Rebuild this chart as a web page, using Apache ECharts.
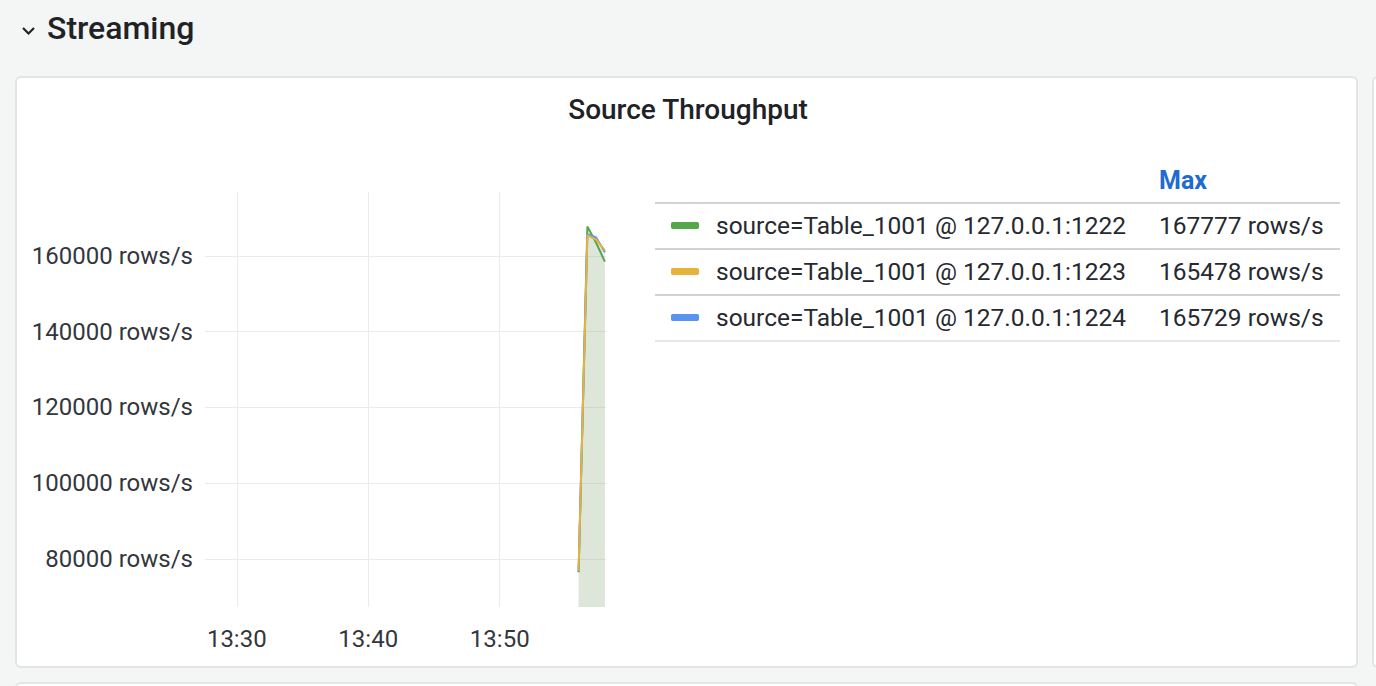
<!DOCTYPE html>
<html>
<head>
<meta charset="utf-8">
<script src="https://cdn.jsdelivr.net/npm/echarts@6/dist/echarts.min.js"></script>
<style>
    html, body {
        margin: 0;
        padding: 0;
        width: 1376px;
        height: 686px;
        overflow: hidden;
        background: #f4f5f5;
        font-family: Roboto, "Noto Sans", sans-serif;
    }
    .row-title {
        position: absolute;
        left: 21px;
        top: 8px;
        height: 40px;
        display: flex;
        align-items: center;
        color: #202226;
        font-size: 32px;
        font-weight: 500;
    }
    .row-title svg {
        margin-right: 11px;
        margin-top: 4px;
    }
    .panel {
        position: absolute;
        background: #fff;
        border: 2px solid #e3e4e6;
        border-radius: 6px;
        box-sizing: border-box;
    }
    #chart {
        position: absolute;
        left: 0;
        top: 0;
        width: 1376px;
        height: 686px;
    }
</style>
</head>
<body>
<div class="row-title">
    <svg width="15" height="11" viewBox="0 0 15 11"><path d="M2 3 L7.5 8.5 L13 3" fill="none" stroke="#202226" stroke-width="2.2"/></svg>
    Streaming
</div>
<div class="panel" style="left:15px; top:76px; width:1343px; height:592px;"></div>
<div class="panel" style="left:1372px; top:76px; width:300px; height:592px;"></div>
<div class="panel" style="left:15px; top:682px; width:1343px; height:100px;"></div>
<div id="chart"></div>

<script>
// sample times (13:56:00 -> 13:58:00, 40s step)
var times = ['13:56:00', '13:56:40', '13:57:20', '13:58:00'];
var seriesNames = [
    'source=Table_1001 @ 127.0.0.1:1222',
    'source=Table_1001 @ 127.0.0.1:1223',
    'source=Table_1001 @ 127.0.0.1:1224'
];
var host1222 = [76500, 167777, 163500, 158500];
var host1223 = [76800, 165478, 164300, 161500];
var host1224 = [76700, 165729, 164900, 161000];
var colors = ['#56A64B', '#E5B33A', '#5794F2'];

function toTs(t) {
    var p = t.split(':');
    return new Date(2024, 0, 1, +p[0], +p[1], +p[2]).getTime();
}
var xMin = toTs('13:27:35');
var xMax = toTs('13:58:05');

var values = [host1222, host1223, host1224];
var maxOf = {};
seriesNames.forEach(function (n, i) {
    maxOf[n] = Math.max.apply(null, values[i]);
});

var chart = echarts.init(document.getElementById('chart'), null, { renderer: 'svg' });

var textColor = '#33373d';
var gridColor = '#ebebeb';

// draw order: green, blue, yellow (yellow ends up on top like the original)
var drawOrder = [0, 2, 1];
var series = drawOrder.map(function (i) {
    return {
        name: seriesNames[i],
        type: 'line',
        symbol: 'none',
        lineStyle: { width: 2, color: colors[i] },
        itemStyle: { color: colors[i] },
        areaStyle: { color: colors[i], opacity: 0.1 },
        data: times.map(function (t, j) { return [toTs(t), values[i][j]]; })
    };
});

// one legend per table row so rows sit on a fixed 46px pitch
var rowTops = [213, 259, 305];
var legends = seriesNames.map(function (name, i) {
    return {
        orient: 'vertical',
        left: 671,
        top: rowTops[i],
        padding: 0,
        itemWidth: 28,
        itemHeight: 7,
        icon: 'roundRect',
        selectedMode: false,
        data: [name],
        formatter: function (n) {
            return '{n|' + n + '}{v|' + maxOf[n] + ' rows/s}';
        },
        textStyle: {
            rich: {
                n: {
                    width: 443,
                    padding: [0, 0, 0, 12],
                    fontSize: 24.5,
                    fontFamily: 'Roboto',
                    color: '#26292f'
                },
                v: {
                    fontSize: 24.5,
                    fontFamily: 'Roboto',
                    color: '#26292f'
                }
            }
        }
    };
});

// legend table separators
var sepY = [203, 249, 295, 341];
var graphics = sepY.map(function (y, i) {
    return {
        type: 'line',
        shape: { x1: 655, y1: y, x2: 1340, y2: y },
        style: { stroke: i === sepY.length - 1 ? '#e6e7e8' : '#d2d3d5', lineWidth: 2 },
        silent: true
    };
});
graphics.push({
    type: 'text',
    left: 1159,
    top: 168,
    style: {
        text: 'Max',
        fill: '#1f6bd0',
        font: 'bold 25px Roboto'
    }
});

chart.setOption({
    animation: false,
    title: {
        text: 'Source Throughput',
        left: 'center',
        top: 95,
        padding: 0,
        textStyle: {
            color: '#202226',
            fontFamily: 'Roboto',
            fontSize: 28,
            fontWeight: 500
        }
    },
    color: colors,
    grid: {
        left: 205,
        right: 770,
        top: 192,
        bottom: 79,
        containLabel: false
    },
    legend: legends,
    xAxis: {
        type: 'time',
        min: xMin,
        max: xMax,
        splitNumber: 3,
        axisLine: { show: false },
        axisTick: { show: false },
        axisLabel: {
            color: textColor,
            fontSize: 24,
            fontFamily: 'Roboto',
            margin: 20,
            showMinLabel: false,
            showMaxLabel: false,
            formatter: '{HH}:{mm}'
        },
        splitLine: {
            show: true,
            showMinLine: false,
            showMaxLine: false,
            lineStyle: { color: gridColor, width: 1 }
        }
    },
    yAxis: {
        type: 'value',
        min: 67300,
        max: 176900,
        splitNumber: 5,
        axisLine: { show: false },
        axisTick: { show: false },
        axisLabel: {
            color: textColor,
            fontSize: 24,
            fontFamily: 'Roboto',
            margin: 12,
            showMinLabel: false,
            showMaxLabel: false,
            formatter: function (v) { return v + ' rows/s'; }
        },
        splitLine: {
            show: true,
            showMinLine: false,
            showMaxLine: false,
            lineStyle: { color: gridColor, width: 1 }
        }
    },
    graphic: graphics,
    series: series
});
</script>
</body>
</html>
